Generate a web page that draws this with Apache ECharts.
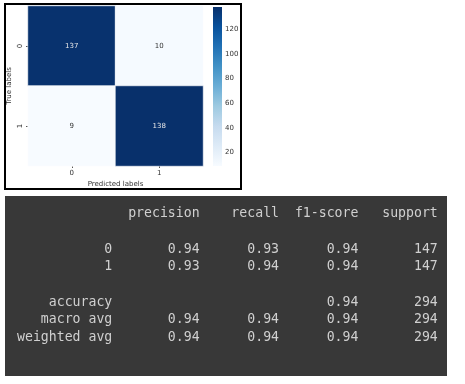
<!DOCTYPE html>
<html>
<head>
<meta charset="utf-8">
<script src="https://cdn.jsdelivr.net/npm/echarts@6/dist/echarts.min.js"></script>
<style>
html,body{margin:0;padding:0;background:#fff;}
#chart{width:465px;height:384px;}
</style>
</head>
<body>
<div id="chart"></div>
<script>
// ---- data ----
var predictedLabels = ['0', '1'];
var trueLabels = ['0', '1'];
var confusionRow0 = [137, 10];
var confusionRow1 = [9, 138];
var colorbarTicks = [20, 40, 60, 80, 100, 120];
var colorMin = 9;
var colorMax = 138;

var reportHeader = ['precision', 'recall', 'f1-score', 'support'];
var reportRows = ['0', '1', '', 'accuracy', 'macro avg', 'weighted avg'];
var precisionVals = ['0.94', '0.93', '', '', '0.94', '0.94'];
var recallVals = ['0.93', '0.94', '', '', '0.94', '0.94'];
var f1Vals = ['0.94', '0.94', '', '0.94', '0.94', '0.94'];
var supportVals = ['147', '147', '', '294', '294', '294'];

var blues = ['#f7fbff','#deebf7','#c6dbef','#9ecae1','#6baed6','#4292c6','#2171b5','#08519c','#08306b'];

// ---- build heatmap data ----
var matrix = [confusionRow0, confusionRow1];
var heatData = [];
for (var r = 0; r < matrix.length; r++) {
  for (var c = 0; c < matrix[r].length; c++) {
    var v = matrix[r][c];
    heatData.push({
      value: [c, r, v],
      label: { color: v > (colorMin + colorMax) / 2 ? '#e8e8e8' : '#333333' }
    });
  }
}

// ---- colorbar gradient (top = max) ----
var gradStops = [];
for (var k = 0; k < blues.length; k++) {
  gradStops.push({ offset: k / (blues.length - 1), color: blues[blues.length - 1 - k] });
}

// ---- build report text ----
function pad(s, n) { s = String(s); while (s.length < n) s = ' ' + s; return s; }
var lines = [];
lines.push(pad('', 12) + pad(reportHeader[0], 11) + pad(reportHeader[1], 10) + pad(reportHeader[2], 10) + pad(reportHeader[3], 10));
lines.push('');
for (var i = 0; i < reportRows.length; i++) {
  if (reportRows[i] === '') { lines.push(''); continue; }
  lines.push(pad(reportRows[i], 12) + pad(precisionVals[i], 11) + pad(recallVals[i], 10) + pad(f1Vals[i], 10) + pad(supportVals[i], 10));
}
var reportText = lines.join('\n');

var chart = echarts.init(document.getElementById('chart'), null, { renderer: 'canvas' });
var smallFont = 'DejaVu Sans';
var fs = 7;
var option = {
  backgroundColor: '#ffffff',
  animation: false,
  grid: [
    { left: 28, top: 6, width: 175, height: 160, show: false },
    { left: 213, top: 7, width: 9, height: 159, show: false }
  ],
  xAxis: [
    {
      type: 'category', gridIndex: 0, data: predictedLabels,
      name: 'Predicted labels', nameLocation: 'middle', nameGap: 15,
      nameTextStyle: { fontFamily: smallFont, fontSize: fs, color: '#333' },
      axisLine: { show: false },
      axisTick: { show: true, alignWithLabel: true, length: 2, lineStyle: { color: '#555' } },
      axisLabel: { fontFamily: smallFont, fontSize: fs, color: '#333', margin: 4 },
      splitLine: { show: false }
    },
    { type: 'value', gridIndex: 1, show: false }
  ],
  yAxis: [
    {
      type: 'category', gridIndex: 0, data: trueLabels, inverse: true,
      name: 'True labels', nameLocation: 'middle', nameGap: 15, nameRotate: 90,
      nameTextStyle: { fontFamily: smallFont, fontSize: fs, color: '#333' },
      axisLine: { show: false },
      axisTick: { show: true, alignWithLabel: true, length: 2, lineStyle: { color: '#555' } },
      axisLabel: { fontFamily: smallFont, fontSize: fs, color: '#333', rotate: 90, margin: 4 },
      splitLine: { show: false }
    },
    {
      type: 'value', gridIndex: 1, position: 'right', min: colorMin, max: colorMax,
      axisLine: { show: false },
      splitLine: { show: false },
      axisTick: { show: true, length: 2, lineStyle: { color: '#555' }, customValues: colorbarTicks },
      axisLabel: { fontFamily: smallFont, fontSize: fs, color: '#333', margin: 3, customValues: colorbarTicks }
    }
  ],
  visualMap: {
    type: 'continuous', min: colorMin, max: colorMax, seriesIndex: 0, dimension: 2,
    show: false,
    inRange: { color: blues }
  },
  series: [
    {
      type: 'heatmap', xAxisIndex: 0, yAxisIndex: 0,
      data: heatData,
      itemStyle: { borderColor: '#ffffff', borderWidth: 0.6 },
      label: { show: true, fontFamily: smallFont, fontSize: fs, formatter: function (p) { return p.value[2]; } },
      emphasis: { disabled: true }
    }
  ],
  graphic: [
    { type: 'rect', shape: { x: 213, y: 7, width: 9, height: 159 },
      style: { fill: new echarts.graphic.LinearGradient(0, 0, 0, 1, gradStops) }, z: 50 },
    { type: 'rect', shape: { x: 5, y: 4, width: 236, height: 185 }, style: { fill: 'none', stroke: '#000', lineWidth: 2 }, z: 100 },
    { type: 'rect', shape: { x: 5, y: 196, width: 442, height: 180 }, style: { fill: '#383838' }, z: 100 },
    { type: 'text', left: 17, top: 205, z: 101,
      style: { text: reportText, font: '13.2px "DejaVu Sans Mono"', fill: '#d0d0d0', lineHeight: 17.7 } }
  ]
};
chart.setOption(option);
</script>
</body>
</html>
